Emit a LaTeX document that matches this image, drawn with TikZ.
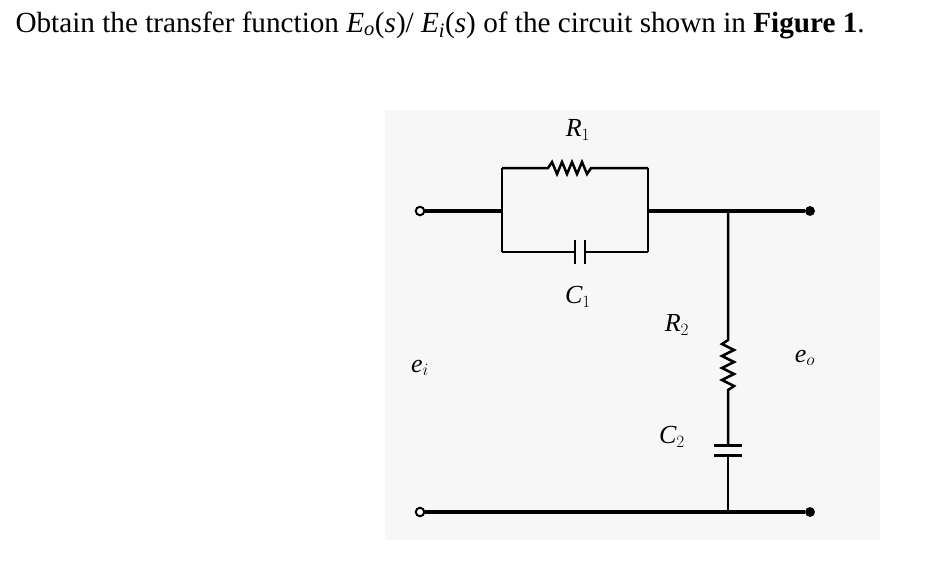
\documentclass[tikz,border=0pt]{standalone}
\usepackage{fontspec}
\setmainfont{Liberation Serif}
\tikzset{wire/.style={line width=3.5pt},
 thin wire/.style={line width=2.5pt},
 term/.style={circle,draw,line width=2pt,fill=white,inner sep=3pt},
 dot/.style={circle,fill=black,inner sep=3.5pt},
 lab/.style={font=\fontsize{26}{28}\selectfont\itshape}}
\begin{document}
\begin{tikzpicture}[x=1pt,y=-1pt]
\useasboundingbox (0,0) rectangle (931,575);
\fill[gray!6] (385,110) rectangle (880,540);
\node[anchor=west,font=\fontsize{29.2}{31}\selectfont] (t) at (12,25) {Obtain the transfer function \textit{E\textsubscript{o}}(\textit{s})/ \textit{E\textsubscript{i}}(\textit{s}) of the circuit shown in \textbf{Figure 1}.};
\node[term] (in) at (420,211) {};
\coordinate (a) at (502,211);
\coordinate (b) at (648,211);
\coordinate (c) at (728,211);
\node[dot] (out) at (810,211) {};
\node[term] (gin) at (420,512) {};
\coordinate (g) at (728,512);
\node[dot] (gout) at (810,512) {};
\draw[wire] (in) -- (a) (b) -- (out);
\draw[thin wire] (502,168) -- (502,252) (648,168) -- (648,252);
\draw[thin wire] (502,168) -- (548,168) -- (552,162) -- (557,174) -- (562,162) -- (567,174) -- (572,162) -- (577,174) -- (582,162) -- (587,174) -- (591,168) -- (648,168);
\draw[thin wire] (502,252) -- (575,252) (585,252) -- (648,252);
\draw[thin wire] (575,240) -- (575,264) (585,240) -- (585,264);
\draw[thin wire] (c) -- (728,340) -- (722,344) -- (734,350) -- (722,356) -- (734,362) -- (722,368) -- (734,374) -- (722,380) -- (734,386) -- (728,390) -- (728,445);
\draw[line width=3pt] (714,445) -- (742,445) (714,455) -- (742,455);
\draw[thin wire] (728,455) -- (g);
\draw[wire] (gin) -- (gout);
\node[lab] (r1) at (578,130) {R$_1$};
\node[lab] (c1) at (578,297) {C$_1$};
\node[lab] (r2) at (677,325) {R$_2$};
\node[lab] (c2) at (672,437) {C$_2$};
\node[lab] (ei) at (420,368) {e$_i$};
\node[lab] (eo) at (805,358) {e$_o$};
\end{tikzpicture}
\end{document}
